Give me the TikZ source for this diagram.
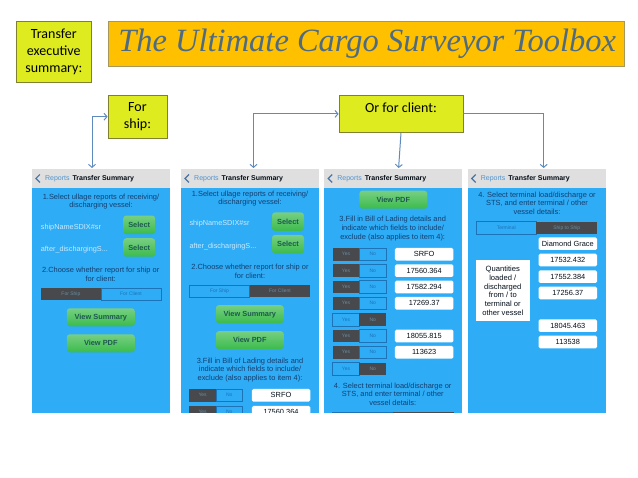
\documentclass[tikz,border=0pt]{standalone}
\usepackage{fontspec}
\setmainfont{Liberation Sans}
\newfontfamily\calloutfont{Carlito}
\newfontfamily\titlefont{Liberation Serif}
\usetikzlibrary{arrows.meta, positioning}

\definecolor{calloutfill}{HTML}{DDEB1F}
\definecolor{calloutline}{HTML}{7F8030}
\definecolor{titlefill}{HTML}{FFC000}
\definecolor{titleline}{HTML}{A8975A}
\definecolor{titletext}{HTML}{4F6B82}
\definecolor{linkblue}{HTML}{5F8ABD}
\definecolor{screenblue}{HTML}{2EACF6}
\definecolor{headgrey}{HTML}{DFDFDF}
\definecolor{navytext}{HTML}{143F70}
\definecolor{segdark}{HTML}{48494D}
\definecolor{segline}{HTML}{1C73B8}
\definecolor{btngreen}{HTML}{3CBB4C}
\definecolor{btnlight}{HTML}{97D877}

\tikzset{
  callout/.style={draw=calloutline, line width=0.8pt, fill=calloutfill, inner sep=0pt,
    align=center, font=\calloutfont\fontsize{14}{17}\selectfont},
  link/.style={draw=linkblue, line width=1pt, >={Straight Barb[length=3pt,width=7pt]}},
  screen/.style={fill=screenblue, minimum width=138pt, minimum height=244pt, inner sep=0pt},
  head/.style={fill=headgrey, minimum width=138pt, minimum height=19pt, inner sep=0pt},
  step text/.style={text=navytext, align=center, inner sep=0pt, font=\fontsize{7.45}{8.8}\selectfont},
  file text/.style={text=white!75!screenblue, anchor=west, inner sep=0pt, font=\fontsize{7.3}{8}\selectfont},
  btn/.style={rounded corners=3pt, top color=btngreen!70!white, middle color=btnlight, bottom color=btngreen,
    text=navytext!60!btngreen!80!black, inner sep=0pt, font=\bfseries\fontsize{7.4}{8}\selectfont},
  selectbtn/.style={btn, minimum width=32pt, minimum height=18.5pt},
  viewbtn/.style={btn, minimum width=68pt, minimum height=18pt},
  seg on/.style={fill=segdark, text=gray!70!screenblue, inner sep=0pt, font=\fontsize{5}{6}\selectfont},
  seg off/.style={draw=segline, line width=0.5pt, text=segline, inner sep=0pt, font=\fontsize{5}{6}\selectfont},
  value/.style={fill=white, rounded corners=1.5pt, text=black!75!navytext, minimum width=58.5pt, minimum height=12.6pt,
    inner sep=0pt, font=\fontsize{7.4}{8}\selectfont},
}

\begin{document}
\begin{tikzpicture}[x=1pt, y=-1pt]
  \useasboundingbox (0,0) rectangle (638,478);

  % top row
  \node[callout, minimum width=75.5pt, minimum height=61pt] (transfer) at (53.8,51.5) {Transfer\\executive\\summary:};
  \node[fill=titlefill, draw=titleline, line width=0.8pt, minimum width=516.5pt, minimum height=45pt, inner sep=0pt,
    text=titletext, font=\titlefont\itshape\fontsize{32.5}{36}\selectfont] (title) at (366.2,43.5) {\hspace{2pt}The Ultimate Cargo Surveyor Toolbox};

  % callouts
  \node[callout, minimum width=59pt, minimum height=42.7pt] (ship) at (137.5,116.7) {For\\ship:};
  \node[callout, minimum width=124pt, minimum height=37.2pt, text depth=13pt] (client) at (401,113.9) {Or for client:};

  % the four screens
  \foreach \n/\x in {1/100.9, 2/250, 3/393.2, 4/536.7} {
    \node[screen] (rep\n) at (\x,291) {};
    \node[head] (head\n) at (\x,178.5) {};
    \node[anchor=west, inner sep=0pt, text=linkblue!70!screenblue, font=\fontsize{7}{8}\selectfont] (back\n) at (\x-56,178.5) {Reports};
    \node[right=2.5pt of back\n, inner sep=0pt, text=black!80!navytext, font=\bfseries\fontsize{7}{8}\selectfont] {Transfer Summary};
    \draw[linkblue!70!navytext, line width=1.2pt] (\x-61,174.5) -- (\x-65,178.5) -- (\x-61,182.5);
  }

  \coordinate (rep1top) at (92,168);
  \coordinate (rep2top) at (253.5,168);
  \coordinate (rep3top) at (398.6,168);
  \coordinate (rep4top) at (543.7,168);

  \draw[link, <->] (ship.west) -| (rep1top);
  \draw[link, <->] (client.west) -| (rep2top);
  \draw[link, ->] (client.south) -- (rep3top);
  \draw[link, ->] (client.east) -| (rep4top);

  % screen 1
  \node[step text] (a1) at (101,201.6) {1.Select ullage reports of receiving/\\discharging vessel:};
  \node[file text] (a2) at (40.7,227.3) {shipNameSDIX\#sr};
  \node[file text] (a3) at (40.7,250) {after\_dischargingS...};
  \node[selectbtn] (a4) at (139.2,224.8) {Select};
  \node[selectbtn] (a5) at (139.2,247.5) {Select};
  \node[step text] (a6) at (100.7,274.4) {2.Choose whether report for ship or\\for client:};
  \node[seg on, minimum width=60.3pt, minimum height=12pt] (a7) at (70.9,294.2) {For Ship};
  \node[seg off, minimum width=60pt, minimum height=12pt] (a8) at (131,294.2) {For Client};
  \node[viewbtn] (a9) at (100.8,317.3) {View Summary};
  \node[viewbtn] (a10) at (100.8,343.3) {View PDF};

  % screen 2
  \begin{scope}
    \clip (181,169) rectangle (319,413);
    \node[step text] (b1) at (250,198.5) {1.Select ullage reports of receiving/\\discharging vessel:};
    \node[file text] (b2) at (189.3,224) {shipNameSDIX\#sr};
    \node[file text] (b3) at (189.3,246.7) {after\_dischargingS...};
    \node[selectbtn] (b4) at (288,221.7) {Select};
    \node[selectbtn] (b5) at (288,244.2) {Select};
    \node[step text] (b6) at (250,271.4) {2.Choose whether report for ship or\\for client:};
    \node[seg off, minimum width=60.4pt, minimum height=12pt] (b7) at (219.5,291.2) {For Ship};
    \node[seg on, minimum width=60.3pt, minimum height=12pt] (b8) at (279.9,291.2) {For Client};
    \node[viewbtn] (b9) at (249.8,314.2) {View Summary};
    \node[viewbtn] (b10) at (249.8,340.2) {View PDF};
    \node[step text] (b11) at (250,370) {3.Fill in Bill of Lading details and\\indicate which fields to include/\\exclude (also applies to item 4):};
    \foreach \r/\y/\v in {1/395.3/SRFO, 2/412.3/17560.364} {
      \node[seg on, minimum width=26.7pt, minimum height=12.6pt] (by\r) at (202.6,\y) {Yes};
      \node[seg off, minimum width=26.7pt, minimum height=12.6pt] (bn\r) at (229.3,\y) {No};
      \node[value] (bv\r) at (281,\y) {\v};
    }
  \end{scope}

  % screen 3
  \begin{scope}
    \clip (324.3,169) rectangle (462.3,413);
    \node[viewbtn] (c1) at (393.3,199.7) {View PDF};
    \node[step text] (c2) at (392.7,228.5) {3.Fill in Bill of Lading details and\\indicate which fields to include/\\exclude (also applies to item 4):};
    \foreach \r/\y/\v in {1/254.3/SRFO, 2/270.7/17560.364, 3/287/17582.294, 4/303.3/17269.37, 6/336/18055.815, 7/352.3/113623} {
      \node[seg on, minimum width=26.7pt, minimum height=12.6pt] (cy\r) at (346,\y) {Yes};
      \node[seg off, minimum width=26.7pt, minimum height=12.6pt] (cn\r) at (372.7,\y) {No};
      \node[value] (cv\r) at (424.2,\y) {\v};
    }
    \foreach \r/\y in {5/319.7, 8/369} {
      \node[seg off, minimum width=26.7pt, minimum height=12.6pt] (cy\r) at (346,\y) {Yes};
      \node[seg on, minimum width=26.7pt, minimum height=12.6pt] (cn\r) at (372.7,\y) {No};
    }
    \node[step text] (c3) at (392.7,394.3) {4. Select terminal load/discharge or\\STS, and enter terminal / other\\vessel details:};
    \node[seg off, minimum width=60.6pt, minimum height=12pt] (c4) at (363,418.2) {};
    \node[seg on, minimum width=60.6pt, minimum height=12pt] (c5) at (423.6,418.2) {};
  \end{scope}

  % screen 4
  \node[step text] (d1) at (537,203.3) {4. Select terminal load/discharge or\\STS, and enter terminal / other\\vessel details:};
  \node[seg off, minimum width=60.3pt, minimum height=12.3pt] (d2) at (506.2,227.9) {Terminal};
  \node[seg on, minimum width=61pt, minimum height=12.3pt] (d3) at (566.8,227.9) {Ship to Ship};
  \foreach \r/\y/\v in {1/243.7/Diamond Grace, 2/260/17532.432, 3/276.7/17552.384, 4/293/17256.37, 5/325.7/18045.463, 6/342/113538} {
    \node[value] (dv\r) at (567.8,\y) {\v};
  }
  \node[fill=white, minimum width=53.7pt, minimum height=60.7pt, inner sep=0pt, align=center, text=black!75!navytext,
    font=\fontsize{7.6}{8.7}\selectfont] (quant) at (502.8,290.7) {Quantities\\loaded /\\discharged\\from / to\\terminal or\\other vessel};
\end{tikzpicture}
\end{document}
